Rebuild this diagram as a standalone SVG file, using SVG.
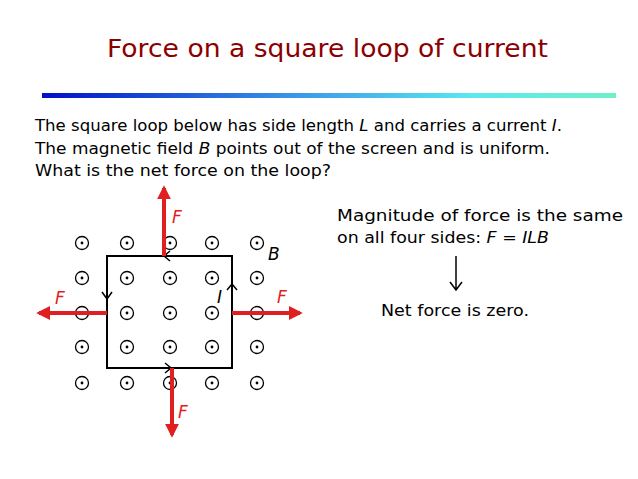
<svg xmlns="http://www.w3.org/2000/svg" width="638" height="479" viewBox="0 0 638 479">
<defs>
<linearGradient id="g" x1="0" x2="1"><stop offset="0" stop-color="#0010c8"/><stop offset="0.45" stop-color="#3a9ae8"/><stop offset="0.75" stop-color="#5ae8f0"/><stop offset="1" stop-color="#70f0c8"/></linearGradient>
<marker id="ra" viewBox="0 0 10 10" refX="8" refY="5" markerWidth="3.5" markerHeight="3.5" orient="auto"><path d="M0,0L10,5L0,10z" fill="#e02020"/></marker>
<g id="dot"><circle r="6.5" fill="none" stroke="#000" stroke-width="1.3"/><circle r="1.4" fill="#000"/></g>
<style>
text{font-family:"DejaVu Sans",sans-serif;fill:#000}
.t{font-size:15px}
.f{font-size:17px;font-style:italic;fill:#e02020}
.fa{stroke:#e02020;stroke-width:4;fill:none;marker-end:url(#ra)}
.ca{stroke:#000;stroke-width:1.5;fill:none}
</style>
</defs>
<text x="107" y="57" textLength="441" lengthAdjust="spacingAndGlyphs" style="font-size:24px;fill:#8b0000">Force on a square loop of current</text>
<rect x="42" y="93" width="574" height="5" fill="url(#g)"/>
<text class="t" x="35" y="131" textLength="527" lengthAdjust="spacingAndGlyphs">The square loop below has side length <tspan font-style="italic">L</tspan> and carries a current <tspan font-style="italic">I</tspan>.</text>
<text class="t" x="35" y="154" textLength="515" lengthAdjust="spacingAndGlyphs">The magnetic field <tspan font-style="italic">B</tspan> points out of the screen and is uniform.</text>
<text class="t" x="35" y="176" textLength="296" lengthAdjust="spacingAndGlyphs">What is the net force on the loop?</text>
<g id="field">
<use href="#dot" x="82" y="243"/><use href="#dot" x="127" y="243"/><use href="#dot" x="170" y="243"/><use href="#dot" x="212" y="243"/><use href="#dot" x="257" y="243"/>
<use href="#dot" x="82" y="278"/><use href="#dot" x="127" y="278"/><use href="#dot" x="170" y="278"/><use href="#dot" x="212" y="278"/><use href="#dot" x="257" y="278"/>
<use href="#dot" x="82" y="313"/><use href="#dot" x="127" y="313"/><use href="#dot" x="170" y="313"/><use href="#dot" x="212" y="313"/><use href="#dot" x="257" y="313"/>
<use href="#dot" x="82" y="347"/><use href="#dot" x="127" y="347"/><use href="#dot" x="170" y="347"/><use href="#dot" x="212" y="347"/><use href="#dot" x="257" y="347"/>
<use href="#dot" x="82" y="383"/><use href="#dot" x="127" y="383"/><use href="#dot" x="170" y="383"/><use href="#dot" x="212" y="383"/><use href="#dot" x="257" y="383"/>
</g>
<g id="loop">
<rect x="107" y="256" width="125" height="112" fill="none" stroke="#000" stroke-width="2"/>
<path class="ca" d="M170,251L164,256L170,261"/>
<path class="ca" d="M102,292L107,299L112,292"/>
<path class="ca" d="M165,363L171,368L165,373"/>
<path class="ca" d="M227,290L232,284L237,290"/>
<text x="268" y="260" style="font-size:17px;font-style:italic">B</text>
<text x="217" y="303" style="font-size:17px;font-style:italic">I</text>
</g>
<g id="forces">
<line class="fa" x1="164" y1="256" x2="164" y2="188"/>
<line class="fa" x1="172" y1="368" x2="172" y2="435"/>
<line class="fa" x1="107" y1="313" x2="39" y2="313"/>
<line class="fa" x1="232" y1="313" x2="300" y2="313"/>
<text class="f" x="172" y="223">F</text>
<text class="f" x="178" y="418">F</text>
<text class="f" x="55" y="304">F</text>
<text class="f" x="277" y="303">F</text>
</g>
<g id="result">
<text class="t" x="337" y="221" textLength="286" lengthAdjust="spacingAndGlyphs">Magnitude of force is the same</text>
<text class="t" x="337" y="243" textLength="212" lengthAdjust="spacingAndGlyphs">on all four sides: <tspan font-style="italic">F</tspan> = <tspan font-style="italic">ILB</tspan></text>
<path d="M456,256V290M450,282L456,290L462,282" fill="none" stroke="#000" stroke-width="1.5"/>
<text class="t" x="381" y="316" textLength="148" lengthAdjust="spacingAndGlyphs">Net force is zero.</text>
</g>
</svg>
